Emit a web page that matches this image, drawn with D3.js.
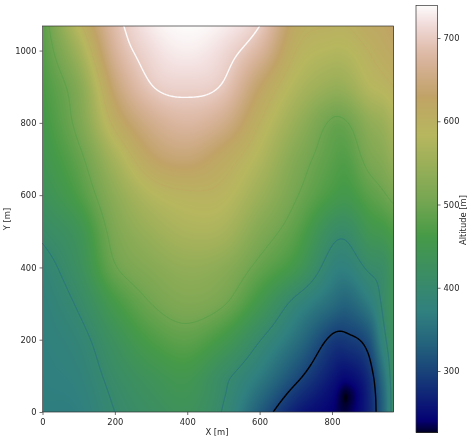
<!DOCTYPE html>
<html><head><meta charset="utf-8">
<script src="https://cdn.jsdelivr.net/npm/d3@7"></script>
<style>html,body{margin:0;padding:0;background:#fff}#w{position:relative;width:474px;height:442px;overflow:hidden}canvas,svg{position:absolute;left:0;top:0}</style>
</head><body><div id="w"></div>
<script>
const xGrid=[0,100,200,300,400,500,600,700,800,840,900,940,970];
const yGrid=[1068,1000,900,800,700,600,500,400,300,200,100,50,0];
const alt1068=[480,590,685,728,739,730,700,615,600,600,615,622,635];
const alt1000=[475,560,672,716,730,715,675,600,580,582,600,612,620];
const alt900=[465,525,642,698,708,696,630,575,545,550,580,590,600];
const alt800=[455,512,608,660,678,658,600,545,495,498,535,550,570];
const alt700=[445,490,565,625,640,615,575,520,480,475,510,525,545];
const alt600=[430,470,535,580,595,590,550,503,462,455,480,495,510];
const alt500=[408,440,515,550,570,565,520,480,415,410,445,455,470];
const alt400=[385,425,497,525,540,530,490,450,380,375,405,415,445];
const alt300=[375,405,460,500,518,503,450,388,345,335,365,405,440];
const alt200=[372,388,430,468,484,455,402,350,293,292,315,385,430];
const alt100=[370,378,412,437,450,410,365,310,262,250,280,350,425];
const alt50=[369,374,405,428,440,403,345,287,248,228,272,338,422];
const alt0=[368,370,400,420,432,397,325,265,240,232,270,335,420];
const altRows=[alt1068,alt1000,alt900,alt800,alt700,alt600,alt500,alt400,alt300,alt200,alt100,alt50,alt0];
const contourLevels=[300,400,500,600,700];
const xTicks=[0,200,400,600,800];
const yTicks=[0,200,400,600,800,1000];
const cbTicks=[300,400,500,600,700];
const xMax=970,yMax=1068,altMin=226,altMax=739;

// gist_earth colormap
const rS=[[0,0],[.2824,.1882],[.4588,.2714],[.549,.4719],[.698,.7176],[.7882,.7553],[1,.9922]];
const gS=[[0,0],[.0275,0],[.1098,.1893],[.1647,.3035],[.2078,.3841],[.2824,.502],[.5216,.6397],[.698,.7171],[.7882,.6392],[.8157,.6549],[.8667,.6991],[.898,.743],[.9412,.8275],[.9647,.8816],[1,.9843]];
const bS=[[0,0],[.0039,.1684],[.0078,.2212],[.0275,.4329],[.0314,.4549],[.2824,.5004],[.4667,.2748],[.5451,.3205],[.7843,.3961],[.8941,.6651],[1,.9843]];
const ch=s=>d3.scaleLinear(s.map(d=>d[0]),s.map(d=>d[1]*255)).clamp(true);
const cr=ch(rS),cg=ch(gS),cb=ch(bS);
const norm=d3.scaleLinear([altMin,altMax],[0,1]).clamp(true);
const lineNorm=d3.scaleLinear([300,700],[0,1]);

const L=42.5,R=393.5,T=26,B=412;
const x=d3.scaleLinear([0,xMax],[L,R]);
const y=d3.scaleLinear([0,yMax],[B,T]);
const W=Math.round(R-L),H=Math.round(B-T),P=4,FW=W+2*P,FH=H+2*P;

// smooth resampling of the grid (Hermite between grid nodes, flat beyond the ends)
function resample(px,vals,qs){
  const n=px.length,dir=px[1]>px[0]?1:-1;
  const tan=vals.map((v,i)=>{const a=Math.max(0,i-1),b=Math.min(n-1,i+1);return (vals[b]-vals[a])/(px[b]-px[a]);});
  return qs.map(q=>{
    let i=0;while(i<n-2&&(dir>0?q>px[i+1]:q<px[i+1]))i++;
    const h=px[i+1]-px[i],t=Math.max(0,Math.min(1,(q-px[i])/h)),t2=t*t,t3=t2*t;
    return (2*t3-3*t2+1)*vals[i]+(t3-2*t2+t)*h*tan[i]+(-2*t3+3*t2)*vals[i+1]+(t3-t2)*h*tan[i+1];
  });
}
const qx=d3.range(FW).map(i=>x.invert(L+i-P+.5));
const qy=d3.range(FH).map(j=>y.invert(T+j-P+.5));
const byRow=altRows.map(r=>resample(xGrid,r,qx));
const field=new Float64Array(FW*FH);
for(let i=0;i<FW;i++){
  const col=resample(yGrid,byRow.map(r=>r[i]),qy);
  for(let j=0;j<FH;j++)field[j*FW+i]=col[j];
}
const wrap=d3.select('#w');
const canvas=wrap.append('canvas').attr('width',474).attr('height',442).node();
const ctx=canvas.getContext('2d');
const paint=(img,k,v)=>{const t=norm(v);img.data[k]=cr(t);img.data[k+1]=cg(t);img.data[k+2]=cb(t);img.data[k+3]=255;};
const img=ctx.createImageData(W,H);
for(let j=0;j<H;j++)for(let i=0;i<W;i++)paint(img,(j*W+i)*4,field[(j+P)*FW+i+P]);
ctx.putImageData(img,Math.round(L),Math.round(T));
// colourbar
const cy=d3.scaleLinear([300,700],[371,38]);
const cbL=416,cbR=437.5,cbT=cy(altMax),cbB=cy(altMin);
const cbH=Math.round(cbB-cbT),cbW=Math.round(cbR-cbL);
const ci=ctx.createImageData(cbW,cbH);
for(let j=0;j<cbH;j++)for(let i=0;i<cbW;i++)paint(ci,(j*cbW+i)*4,cy.invert(cbT+j+.5));
ctx.putImageData(ci,cbL,Math.round(cbT));

const svg=wrap.append('svg').attr('width',474).attr('height',442);
const font='"DejaVu Sans"',fc='#262626',fs=8.4;
svg.append('clipPath').attr('id','c').append('rect').attr('x',L).attr('y',T).attr('width',R-L).attr('height',B-T);
// contours
const proj=d3.geoTransform({point(a,b){this.stream.point(L-P+a,T-P+b);}});
const path=d3.geoPath(proj);
const cs=d3.contours().size([FW,FH]).smooth(true).thresholds(contourLevels)(Array.from(field));
svg.append('g').attr('clip-path','url(#c)').selectAll('path').data(cs).join('path')
 .attr('d',path).attr('fill','none')
 .attr('stroke',d=>{const t=lineNorm(d.value);return d3.rgb(cr(t),cg(t),cb(t));})
 .attr('stroke-width',d=>(d.value===300||d.value===700)?1.4:1);
// axes
const style=(g)=>{g.selectAll('text').attr('font-family',font).attr('font-size',fs).attr('fill',fc);
 g.selectAll('line').attr('stroke','#333').attr('stroke-width',.7);g.select('.domain').remove();};
svg.append('g').attr('transform',`translate(0,${B})`).call(d3.axisBottom(x).tickValues(xTicks).tickFormat(d3.format('d')).tickSize(3).tickPadding(4)).call(style);
svg.append('g').attr('transform',`translate(${L},0)`).call(d3.axisLeft(y).tickValues(yTicks).tickFormat(d3.format('d')).tickSize(3).tickPadding(3)).call(style);
svg.append('g').attr('transform',`translate(${cbR},0)`).call(d3.axisRight(cy).tickValues(cbTicks).tickFormat(d3.format('d')).tickSize(3).tickPadding(3)).call(style);
svg.append('rect').attr('x',L).attr('y',T).attr('width',R-L).attr('height',B-T).attr('fill','none').attr('stroke','#333').attr('stroke-width',.7);
svg.append('rect').attr('x',cbL).attr('y',cbT).attr('width',cbR-cbL).attr('height',cbB-cbT).attr('fill','none').attr('stroke','#333').attr('stroke-width',.7);
const label=(t,a,b,r)=>svg.append('text').text(t).attr('text-anchor','middle').attr('font-family',font).attr('font-size',fs).attr('fill',fc)
 .attr('transform',`translate(${a},${b})${r?' rotate(-90)':''}`);
label('X [m]',217,435,false);
label('Y [m]',10,219,true);
label('Altitude [m]',466,220,true);
</script></body></html>
